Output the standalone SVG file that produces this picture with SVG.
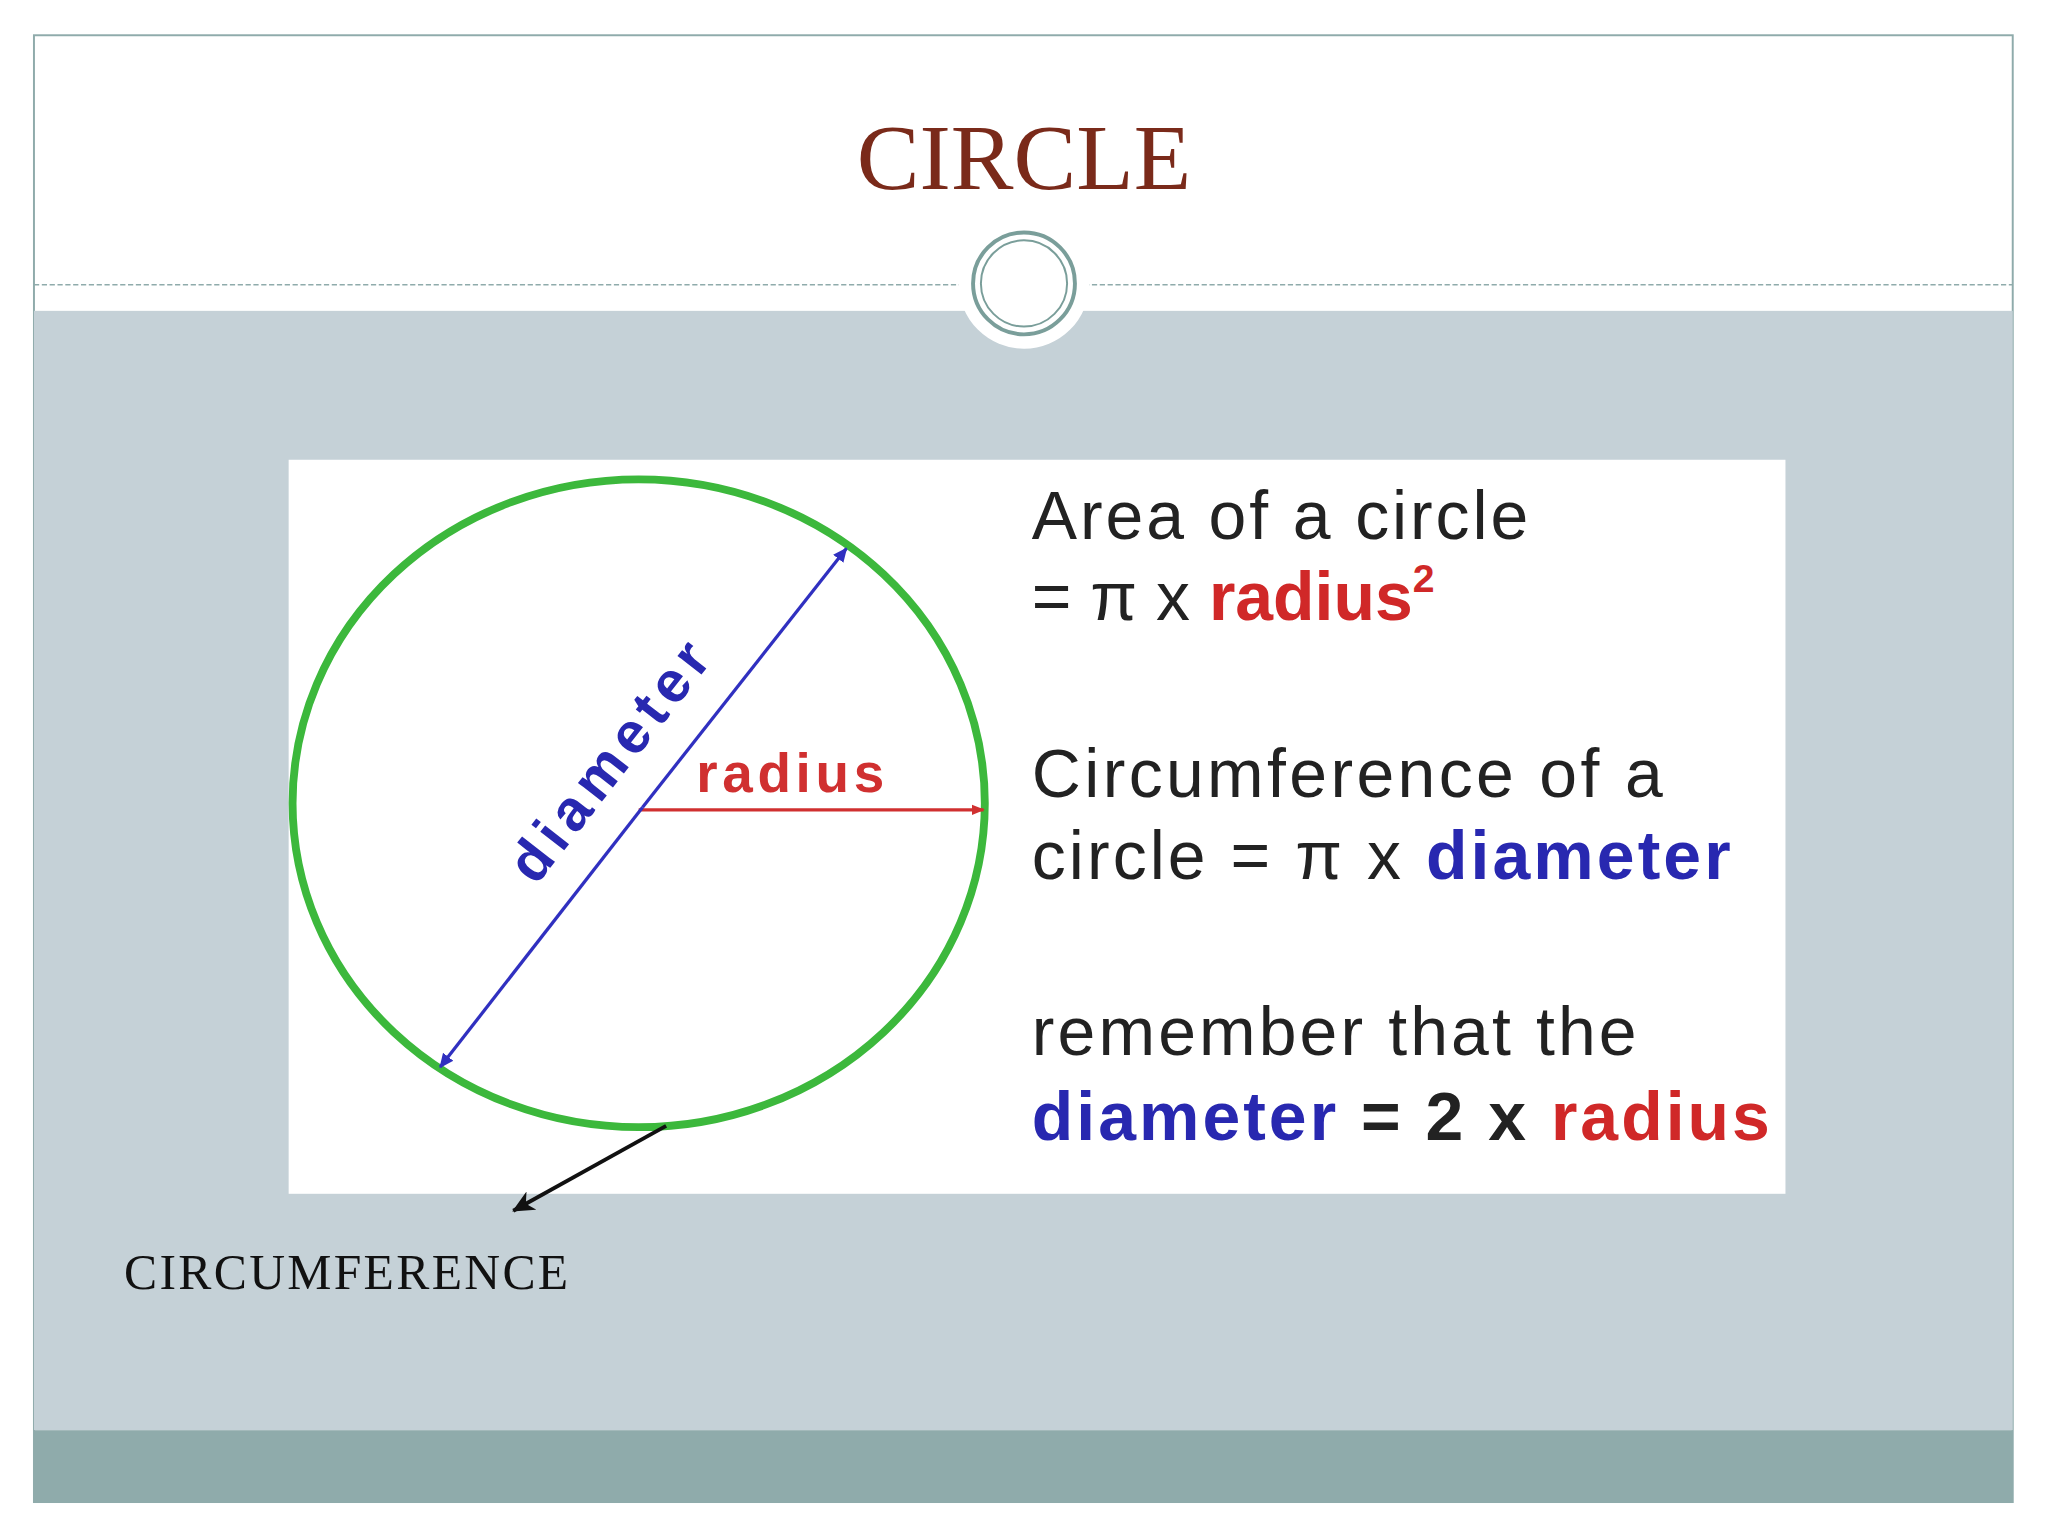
<svg xmlns="http://www.w3.org/2000/svg" width="2048" height="1536" viewBox="0 0 2048 1536">
<defs>
<style>
.s{font-family:"Liberation Sans",Arial,sans-serif;fill:#222}
.b{font-weight:bold}
</style>
<marker id="ar" markerWidth="10" markerHeight="10" refX="9" refY="5" orient="auto" markerUnits="userSpaceOnUse"><path d="M0,1 L10,5 L0,9 Z" fill="#d03030"/></marker>
<marker id="ab" markerWidth="12" markerHeight="12" refX="10" refY="6" orient="auto" markerUnits="userSpaceOnUse"><path d="M0,1 L11,6 L0,11 Z" fill="#3030c0"/></marker>
<marker id="ak" markerWidth="18" markerHeight="16" refX="16" refY="8" orient="auto" markerUnits="userSpaceOnUse"><path d="M0,0 L17,8 L0,16 L5,8 Z" fill="#111"/></marker>
</defs>
<rect width="2048" height="1536" fill="#fff"/>
<g transform="scale(1.30612)">
<g id="slide">
<rect x="26" y="27" width="1515" height="1123" fill="#fff" stroke="#8fabab" stroke-width="1.5"/>
<rect x="26" y="238" width="1515" height="857" fill="#c5d1d7"/>
<rect x="26" y="1095" width="1515" height="55" fill="#8fabab"/>
<line x1="26" y1="218" x2="1541" y2="218" stroke="#8fabab" stroke-width="1.2" stroke-dasharray="4,2"/>
<circle cx="784" cy="217" r="50" fill="#fff"/>
<circle cx="784" cy="217" r="39" fill="none" stroke="#7a9e9a" stroke-width="3"/>
<circle cx="784" cy="217" r="33" fill="none" stroke="#7a9e9a" stroke-width="1.5"/>
<text x="784" y="145" text-anchor="middle" font-family="Liberation Serif,serif" font-size="72" fill="#7a2a1a">CIRCLE</text>
</g>
<g id="image">
<rect x="221" y="352" width="1146" height="562" fill="#fff"/>
<ellipse cx="489" cy="615" rx="265" ry="248" fill="none" stroke="#3cb83c" stroke-width="6"/>
</g>
<g id="connectors">
<line x1="489" y1="620" x2="753" y2="620" stroke="#d03030" stroke-width="2.5" marker-end="url(#ar)"/>
<line x1="492" y1="618" x2="648" y2="420" stroke="#3030c0" stroke-width="2.5" marker-end="url(#ab)"/>
<line x1="492" y1="618" x2="337" y2="817" stroke="#3030c0" stroke-width="2.5" marker-end="url(#ab)"/>
<line x1="510" y1="862" x2="393" y2="927" stroke="#111" stroke-width="3" marker-end="url(#ak)"/>
</g>
<g id="labels">
<text class="s b" x="533" y="606" font-size="42" textLength="144" style="fill:#d03030">radius</text>
<text class="s b" transform="translate(478,592) rotate(-52)" text-anchor="middle" font-size="44" textLength="220" style="fill:#2828b0">diameter</text>
<text class="s" x="790" y="413" font-size="52" textLength="380">Area of a circle</text>
<text class="s" x="790" y="475" font-size="52">= π x <tspan class="b" style="fill:#d02828">radius</tspan><tspan class="b" style="fill:#d02828" font-size="30" dy="-22">2</tspan></text>
<text class="s" x="790" y="610" font-size="52" textLength="483">Circumference of a</text>
<text class="s" x="790" y="673" font-size="52" textLength="535">circle = π x <tspan class="b" style="fill:#2828b0">diameter</tspan></text>
<text class="s" x="790" y="808" font-size="52" textLength="463">remember that the</text>
<text class="s b" x="790" y="873" font-size="52" textLength="565"><tspan style="fill:#2828b0">diameter</tspan> = 2 x <tspan style="fill:#d02828">radius</tspan></text>
<text x="95" y="987" font-family="Liberation Serif,serif" font-size="38" textLength="340" fill="#111">CIRCUMFERENCE</text>
</g>
</g>
</svg>
